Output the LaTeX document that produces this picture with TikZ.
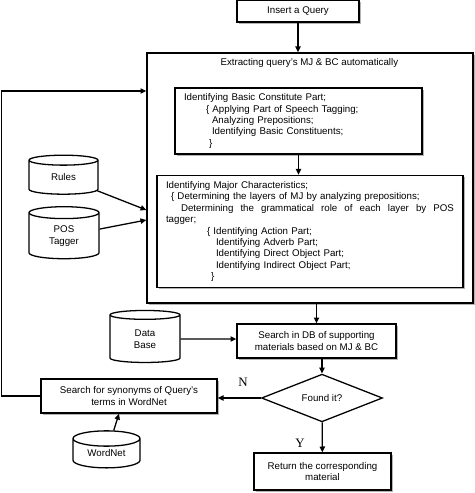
\documentclass[tikz,border=0pt]{standalone}
\usepackage{fontspec}
\setmainfont{Liberation Sans}
\newfontfamily\labelfont{Liberation Serif}
\usetikzlibrary{arrows.meta,shapes.geometric,positioning,calc,shadows}

\begin{document}
\begin{tikzpicture}[
    font=\fontsize{8.3}{9.8}\selectfont,
    box/.style={draw, line width=1.1pt, fill=white, align=center, inner sep=0pt,
        drop shadow={shadow xshift=1.3pt, shadow yshift=-1.3pt, opacity=0.6}},
    listbox/.style={box, align=left, inner xsep=0.27cm},
    db/.style={draw, line width=1.1pt, fill=white, cylinder, shape border rotate=90, aspect=0.4,
        align=center, inner sep=0pt},
    arr/.style={-{Triangle[length=5pt,width=4.5pt]}, line width=1.1pt},
    yn/.style={font=\labelfont\fontsize{11}{12}\selectfont}
]
\useasboundingbox (0,0) rectangle (14.22,-14.79);

\node[box, minimum width=3.66cm, minimum height=0.66cm] (insert) at (8.94,-0.33) {Insert a Query};

\node[box, minimum width=9.78cm, minimum height=7.5cm] (outer) at (9.3,-5.34) {};
\node (title) at (9.28,-1.89) {Extracting query's MJ \& BC automatically};

\node[listbox, text width=6.87cm, minimum height=1.98cm] (basic) at (8.955,-3.63)
    {Identifying Basic Constitute Part;\\
     \hspace*{0.66cm}\{ Applying Part of Speech Tagging;\\
     \hspace*{0.84cm}Analyzing Prepositions;\\
     \hspace*{0.84cm}Identifying Basic Constituents;\\
     \hspace*{0.75cm}\}};

\node[listbox, text width=8.64cm, minimum height=3.36cm] (major) at (9.3,-6.945)
    {Identifying Major Characteristics;\\
     \hspace*{0.15cm}\{ Determining the layers of MJ by analyzing prepositions;\\
     \hspace*{0.45cm}Determining\hfill the\hfill grammatical\hfill role\hfill of\hfill each\hfill layer\hfill by\hfill POS\\
     tagger;\\
     \hspace*{1.23cm}\{ Identifying Action Part;\\
     \hspace*{1.5cm}Identifying Adverb Part;\\
     \hspace*{1.5cm}Identifying Direct Object Part;\\
     \hspace*{1.5cm}Identifying Indirect Object Part;\\
     \hspace*{1.35cm}\}};

\node[db, minimum width=2.07cm, minimum height=1.17cm] (rules) at (1.905,-5.325) {Rules};
\node[db, minimum width=2.1cm, minimum height=1.56cm] (tagger) at (1.92,-7.08) {POS\\Tagger};
\node[db, minimum width=2.1cm, minimum height=1.56cm] (data) at (4.35,-10.17) {Data\\Base};
\node[db, minimum width=2.01cm, minimum height=1.11cm] (wordnet) at (3.195,-13.605) {WordNet};

\node[box, minimum width=4.77cm, minimum height=1.02cm] (search) at (9.495,-10.23)
    {Search in DB of supporting\\materials based on MJ \& BC};
\node[draw, line width=1.1pt, diamond, minimum width=3.63cm, minimum height=1.11cm, inner sep=0pt] (found) at (9.66,-11.94) {Found it?};
\node[box, minimum width=5.28cm, minimum height=1.02cm] (synonym) at (3.87,-11.88)
    {Search for synonyms of Query's\\terms in WordNet};
\node[box, minimum width=4.11cm, minimum height=1.11cm] (result) at (9.675,-14.145)
    {Return the corresponding\\material};

\node[yn] (no) at (7.29,-11.46) {N};
\node[yn] (yes) at (9.0,-13.29) {Y};

\draw[arr] (insert) -- (insert |- outer.north);
\draw[arr] (basic) -- (basic |- major.north);
\draw[arr] (rules) -- ([yshift=-0.96cm]outer.west);
\draw[arr] (tagger) -- ([yshift=-1.26cm]outer.west);
\draw[arr] (search |- outer.south) -- (search);
\draw[arr] (data) -- (data -| search.west);
\draw[arr] (found |- search.south) -- (found);
\draw[arr] (found) -- (found -| synonym.east);
\draw[arr] (found) -- (result);
\draw[arr] (wordnet) -- ([xshift=-0.3cm]synonym.south);
\draw[arr] (synonym.west) -- ++(-1.17,0) |- ([yshift=2.61cm]outer.west);
\end{tikzpicture}
\end{document}
